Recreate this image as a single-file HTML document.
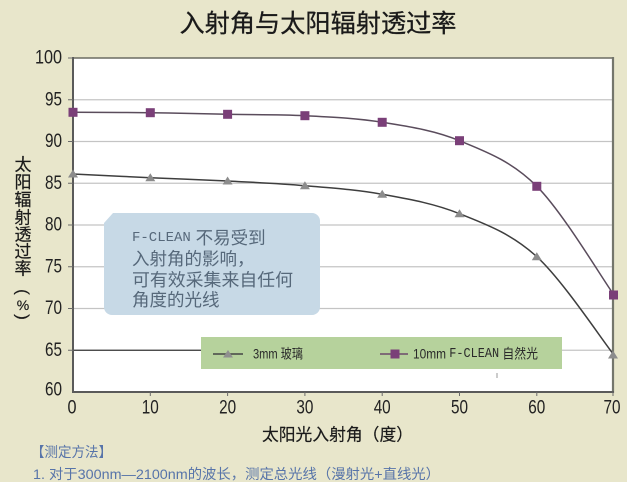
<!DOCTYPE html>
<html><head><meta charset="utf-8"><style>
html,body{margin:0;padding:0;background:#e8e6cb;}
svg{display:block;}
text{font-family:"Liberation Sans","Noto Sans CJK SC",sans-serif;}
</style></head><body>
<svg width="627" height="482" viewBox="0 0 627 482" xmlns="http://www.w3.org/2000/svg">
<rect x="0" y="0" width="627" height="482" fill="#e8e6cb"/>
<!-- title -->
<text x="318" y="24" font-size="25" fill="#1a1a1a" stroke="#1a1a1a" stroke-width="0.3" text-anchor="middle" dominant-baseline="central" textLength="277" lengthAdjust="spacingAndGlyphs">入射角与太阳辐射透过率</text>

<!-- plot area -->
<rect x="73" y="58" width="540" height="334" fill="#ffffff"/>
<g stroke="#c4c4c4" stroke-width="1.2">
<line x1="73" y1="99.75" x2="613" y2="99.75"/>
<line x1="73" y1="141.5" x2="613" y2="141.5"/>
<line x1="73" y1="183.25" x2="613" y2="183.25"/>
<line x1="73" y1="225" x2="613" y2="225"/>
<line x1="73" y1="266.75" x2="613" y2="266.75"/>
<line x1="73" y1="308.5" x2="613" y2="308.5"/>
<line x1="73" y1="350.25" x2="613" y2="350.25"/>
</g>
<line x1="73" y1="350.25" x2="201" y2="350.25" stroke="#3a3a3a" stroke-width="1.2"/>
<!-- frame -->
<line x1="73" y1="58" x2="614" y2="58" stroke="#6b6b62" stroke-width="1.6"/>
<line x1="613" y1="57" x2="613" y2="393" stroke="#74766c" stroke-width="2.2"/>
<line x1="73" y1="57" x2="73" y2="393" stroke="#5a5a5a" stroke-width="2"/>
<line x1="72" y1="392" x2="614" y2="392" stroke="#5a5a5a" stroke-width="2"/>
<g stroke="#6a6a6a" stroke-width="1">
<line x1="68" y1="58" x2="73" y2="58"/><line x1="68" y1="99.75" x2="73" y2="99.75"/>
<line x1="68" y1="141.5" x2="73" y2="141.5"/><line x1="68" y1="183.25" x2="73" y2="183.25"/>
<line x1="68" y1="225" x2="73" y2="225"/><line x1="68" y1="266.75" x2="73" y2="266.75"/>
<line x1="68" y1="308.5" x2="73" y2="308.5"/><line x1="68" y1="350.25" x2="73" y2="350.25"/>
<line x1="150.3" y1="392" x2="150.3" y2="396"/><line x1="227.6" y1="392" x2="227.6" y2="396"/>
<line x1="304.9" y1="392" x2="304.9" y2="396"/><line x1="382.2" y1="392" x2="382.2" y2="396"/>
<line x1="459.5" y1="392" x2="459.5" y2="396"/><line x1="536.8" y1="392" x2="536.8" y2="396"/>
<line x1="613" y1="392" x2="613" y2="396"/>
</g>

<!-- y labels -->
<g font-size="19" fill="#222" text-anchor="end" dominant-baseline="central">
<text x="62" y="58" textLength="27" lengthAdjust="spacingAndGlyphs">100</text>
<text x="62" y="99.75" textLength="17" lengthAdjust="spacingAndGlyphs">95</text>
<text x="62" y="141.5" textLength="17" lengthAdjust="spacingAndGlyphs">90</text>
<text x="62" y="183.25" textLength="17" lengthAdjust="spacingAndGlyphs">85</text>
<text x="62" y="225" textLength="17" lengthAdjust="spacingAndGlyphs">80</text>
<text x="62" y="266.75" textLength="17" lengthAdjust="spacingAndGlyphs">75</text>
<text x="62" y="308.5" textLength="17" lengthAdjust="spacingAndGlyphs">70</text>
<text x="62" y="350.25" textLength="17" lengthAdjust="spacingAndGlyphs">65</text>
<text x="62" y="390" textLength="17" lengthAdjust="spacingAndGlyphs">60</text>
</g>
<!-- x labels -->
<g font-size="19" fill="#222" text-anchor="middle" dominant-baseline="central">
<text x="72" y="408" textLength="9" lengthAdjust="spacingAndGlyphs">0</text>
<text x="150.3" y="408" textLength="17" lengthAdjust="spacingAndGlyphs">10</text>
<text x="227.6" y="408" textLength="17" lengthAdjust="spacingAndGlyphs">20</text>
<text x="304.9" y="408" textLength="17" lengthAdjust="spacingAndGlyphs">30</text>
<text x="382.2" y="408" textLength="17" lengthAdjust="spacingAndGlyphs">40</text>
<text x="459.5" y="408" textLength="17" lengthAdjust="spacingAndGlyphs">50</text>
<text x="536.8" y="408" textLength="17" lengthAdjust="spacingAndGlyphs">60</text>
<text x="612" y="408" textLength="17" lengthAdjust="spacingAndGlyphs">70</text>
</g>

<!-- axis titles -->
<text x="337.5" y="435" font-size="17" fill="#1a1a1a" stroke="#1a1a1a" stroke-width="0.2" text-anchor="middle" dominant-baseline="central" textLength="151" lengthAdjust="spacingAndGlyphs">太阳光入射角（度）</text>
<g font-size="17" fill="#1a1a1a" stroke="#1a1a1a" stroke-width="0.2" text-anchor="middle" dominant-baseline="central">
<text x="23" y="165">太</text>
<text x="23" y="182.5">阳</text>
<text x="23" y="200">辐</text>
<text x="23" y="218">射</text>
<text x="23" y="235">透</text>
<text x="23" y="252">过</text>
<text x="23" y="269">率</text>
<text x="23" y="292" transform="rotate(90 23 292)">(</text>
<text x="23" y="305" font-size="14">%</text>
<text x="23" y="317" transform="rotate(90 23 317)">)</text>
</g>

<!-- callout -->
<path d="M113,213 H312 A8,8 0 0 1 320,221 V307 A8,8 0 0 1 312,315 H112 A8,8 0 0 1 104,307 V223 Z" fill="#c7d9e6"/>
<g font-size="17.5" fill="#56687a" dominant-baseline="central">
<text x="132" y="238"><tspan font-family="'Liberation Mono',monospace" font-size="14">F-CLEAN</tspan> 不易受到</text>
<text x="132" y="259">入射角的影响，</text>
<text x="132" y="280" textLength="161" lengthAdjust="spacingAndGlyphs">可有效采集来自任何</text>
<text x="132" y="300">角度的光线</text>
</g>

<!-- legend -->
<rect x="201" y="337" width="361" height="32" fill="#b6d29c"/>
<line x1="213" y1="354" x2="243" y2="354" stroke="#444" stroke-width="1.5"/>
<polygon points="228,350 233,357.5 223,357.5" fill="#8f8f8f"/>
<line x1="380" y1="354" x2="408" y2="354" stroke="#6b4a6b" stroke-width="1.5"/>
<rect x="390.5" y="349.5" width="9" height="9" fill="#7a3f78"/>
<g font-size="13.5" fill="#2a2a2a" dominant-baseline="central">
<text x="253" y="354" textLength="50" lengthAdjust="spacingAndGlyphs">3mm 玻璃</text>
<text x="413" y="354" textLength="125" lengthAdjust="spacingAndGlyphs">10mm <tspan font-family="'Liberation Mono',monospace">F-CLEAN</tspan> 自然光</text>
</g>
<line x1="497" y1="373" x2="497" y2="378" stroke="#999" stroke-width="1"/>

<!-- series: 10mm F-CLEAN -->
<path d="M73,112.3 C85.88,112.37 124.53,112.37 150.3,112.7 C176.07,113.03 201.83,113.8 227.6,114.3 C253.37,114.8 279.13,114.37 304.9,115.7 C330.67,117.03 356.43,118.13 382.2,122.3 C407.97,126.47 433.73,130.03 459.5,140.7 C485.27,151.37 511.03,160.58 536.8,186.3 C562.57,212.02 601.13,276.88 614,295" fill="none" stroke="#5a4c5c" stroke-width="1.5"/>
<!-- series: 3mm glass -->
<path d="M73,174 C85.88,174.62 124.53,176.53 150.3,177.7 C176.07,178.87 201.83,179.67 227.6,181 C253.37,182.33 279.13,183.48 304.9,185.7 C330.67,187.92 356.43,189.63 382.2,194.3 C407.97,198.97 433.73,203.3 459.5,213.7 C485.27,224.1 511.03,233.15 536.8,256.7 C562.57,280.25 601.13,338.62 614,355" fill="none" stroke="#3e3e3e" stroke-width="1.5"/>

<g fill="#7a3f78">
<rect x="68.5" y="107.8" width="9" height="9"/>
<rect x="145.8" y="108.2" width="9" height="9"/>
<rect x="223.1" y="109.8" width="9" height="9"/>
<rect x="300.4" y="111.2" width="9" height="9"/>
<rect x="377.7" y="117.8" width="9" height="9"/>
<rect x="455" y="136.2" width="9" height="9"/>
<rect x="532.3" y="181.8" width="9" height="9"/>
<rect x="609" y="290.5" width="9" height="9"/>
</g>
<g fill="#8c8c8c">
<polygon points="73,169.5 78,177.5 68,177.5"/>
<polygon points="150.3,173.2 155.3,181.2 145.3,181.2"/>
<polygon points="227.6,176.5 232.6,184.5 222.6,184.5"/>
<polygon points="304.9,181.2 309.9,189.2 299.9,189.2"/>
<polygon points="382.2,189.8 387.2,197.8 377.2,197.8"/>
<polygon points="459.5,209.2 464.5,217.2 454.5,217.2"/>
<polygon points="536.8,252.2 541.8,260.2 531.8,260.2"/>
<polygon points="613,350.5 618,358.5 608,358.5"/>
</g>

<!-- bottom notes -->
<text x="31" y="452" font-size="14" fill="#5774a9" dominant-baseline="central" textLength="81" lengthAdjust="spacingAndGlyphs">【测定方法】</text>
<text x="33" y="474" font-size="14" fill="#5774a9" dominant-baseline="central" textLength="407" lengthAdjust="spacingAndGlyphs">1. 对于300nm—2100nm的波长，测定总光线（漫射光+直线光）</text>
</svg>
</body></html>
